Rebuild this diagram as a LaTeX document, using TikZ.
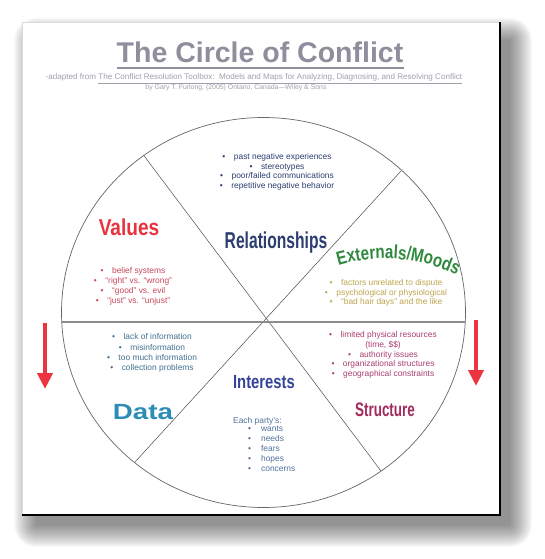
\documentclass[tikz,border=0pt]{standalone}
\usepackage{fontspec}
\setmainfont{Liberation Sans}
\newfontfamily\archfont[FakeStretch=0.8]{Liberation Sans Bold}
\usetikzlibrary{arrows.meta,decorations.text,calc}

\definecolor{titlegray}{HTML}{8E8E9C}
\definecolor{notegray}{HTML}{A0A0AC}
\definecolor{relblue}{HTML}{2C3E70}
\definecolor{valred}{HTML}{E8333F}
\definecolor{valtext}{HTML}{C9465A}
\definecolor{extgreen}{HTML}{2F8A3E}
\definecolor{exttext}{HTML}{BCA64E}
\definecolor{datateal}{HTML}{2B8DB6}
\definecolor{datatext}{HTML}{41708F}
\definecolor{intblue}{HTML}{35469A}
\definecolor{inttext}{HTML}{50709A}
\definecolor{strucred}{HTML}{A22A5C}
\definecolor{structext}{HTML}{AA3E6E}
\definecolor{arrowred}{HTML}{EC3440}

\newcommand\itm[1]{\textbullet\hspace{8.5pt}#1}
\newcommand\sqz[2]{\scalebox{#1}[1]{#2}}

\begin{document}
\begin{tikzpicture}[x=1pt,y=-1pt,
    every node/.style={inner sep=0pt},
    bullets/.style={font=\fontsize{8.4}{#1}\selectfont,align=center},
    bigword/.style={font=\fontsize{#1}{#1}\selectfont\bfseries},
    rim/.style={draw=black!60,line width=0.7pt},
    spoke/.style={draw=black!70,line width=0.5pt},
    divider/.style={draw=black!45,line width=2.4pt},
    downarrow/.style={draw=arrowred,line width=4.6pt,-{Triangle[width=15pt,length=16pt]}}]
  \useasboundingbox (0,0) rectangle (544,559);

  % page and its shadow
  \foreach \e in {0,...,22}
    \fill[black,opacity=0.024,rounded corners=\e pt] (36-\e,40-\e) rectangle (510+\e,525+\e);
  \fill[white] (22,22) rectangle (500,515);
  \draw[black!15] (22,515) -- (22,22) -- (500,22);
  \draw[black,line width=1.1pt] (500,22) -- (500,515) -- (22,515);

  % title lines
  \node[font=\fontsize{28.5}{30}\selectfont\bfseries,text=titlegray,anchor=base] (title) at (260,63) {The Circle of Conflict};
  \draw[titlegray,line width=1.8pt] ($(title.base west)+(0,5)$) -- ($(title.base east)+(0,5)$);
  \node[font=\fontsize{8.1}{9}\selectfont,text=notegray,anchor=base] (source) at (254,80)
    {-adapted from \underline{The Conflict Resolution Toolbox:\ \ Models and Maps for Analyzing, Diagnosing, and Resolving Conflict}};
  \node[font=\fontsize{6.9}{8}\selectfont,text=notegray,anchor=base] (author) at (236,90)
    {by Gary T. Furlong, (2005) Ontario, Canada—Wiley \& Sons};

  % the wheel
  \coordinate (hub) at (268,322);
  \coordinate (w) at (61.7,322);
  \coordinate (e) at (465.3,322);
  \coordinate (nw) at (143.6,155.2);
  \coordinate (ne) at (401,171);
  \coordinate (sw) at (135,462);
  \coordinate (se) at (381,471);
  \draw[rim] (263.5,312.5) ellipse [x radius=202,y radius=195];
  \draw[spoke] (nw) -- (se);
  \draw[spoke] (ne) -- (sw);
  \draw[divider] (w) -- (e);

  % Relationships
  \node[bullets=9.6,text=relblue] (relList) at (277,172)
    {\itm{past negative experiences}\\ \itm{stereotypes}\\ \itm{poor/failed communications}\\ \itm{repetitive negative behavior}};
  \node[bigword=23,text=relblue] (relWord) at (276,243) {\sqz{0.68}{Relationships}};

  % Values
  \node[bigword=23,text=valred] (valWord) at (129,227) {\sqz{0.83}{Values}};
  \node[bullets=10,text=valtext] (valList) at (133,286)
    {\itm{belief systems}\\ \itm{“right” vs. “wrong”}\\ \itm{“good” vs. evil}\\ \itm{“just” vs. “unjust”}};

  % Externals/Moods
  \begin{scope}[y=1pt]
    \path[decorate,decoration={text along path,text align=center,text color=extgreen,
      text={|\archfont\fontsize{19}{19}\selectfont|Externals/Moods}}]
      (336,-266) arc[start angle=107.2,end angle=63.4,radius=165.4];
  \end{scope}
  \node[bullets=9.4,text=exttext] (extList) at (386,293)
    {\itm{factors unrelated to dispute}\\ \itm{psychological or physiological}\\ \itm{“bad hair days” and the like}};

  % Data
  \node[bullets=10.2,text=datatext] (dataList) at (152,353)
    {\itm{lack of information}\\ \itm{misinformation}\\ \itm{too much information}\\ \itm{collection problems}};
  \node[bigword=22,text=datateal] (dataWord) at (143,412) {\sqz{1.26}{Data}};

  % Interests
  \node[bigword=19,text=intblue] (intWord) at (264,382) {\sqz{0.78}{Interests}};
  \node[font=\fontsize{8.4}{9.85}\selectfont,text=inttext,anchor=base west] (party) at (233,423) {Each party's:};
  \node[font=\fontsize{8.4}{9.85}\selectfont,text=inttext,align=left,anchor=north west] (intList) at (248,426)
    {\textbullet\hspace{10pt}wants\\ \textbullet\hspace{10pt}needs\\ \textbullet\hspace{10pt}fears\\ \textbullet\hspace{10pt}hopes\\ \textbullet\hspace{10pt}concerns};

  % Structure
  \node[bullets=9.7,text=structext] (strucList) at (383,355)
    {\itm{limited physical resources}\\ (time, \$\$)\\ \itm{authority issues}\\ \itm{organizational structures}\\ \itm{geographical constraints}};
  \node[bigword=19.5,text=strucred] (strucWord) at (385,410) {\sqz{0.69}{Structure}};

  % arrows down the sides
  \coordinate (lTop) at (45,323);
  \coordinate (lTip) at (45,389);
  \coordinate (rTop) at (476,320);
  \coordinate (rTip) at (476,386);
  \draw[downarrow] (lTop) -- (lTip);
  \draw[downarrow] (rTop) -- (rTip);
\end{tikzpicture}
\end{document}
